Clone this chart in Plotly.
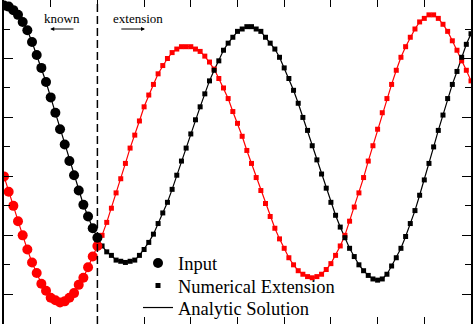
import plotly.graph_objects as go

# sample index (time steps)
t = list(range(101))

# black series
black = [1.45, 1.44, 1.41, 1.37, 1.31, 1.24, 1.14, 1.03, 0.92, 0.80,
         0.67, 0.54, 0.40, 0.27, 0.13, 0.01, -0.12, -0.24, -0.34, -0.44,
         -0.52, -0.59, -0.64, -0.67, -0.71, -0.72, -0.73, -0.72, -0.71, -0.67,
         -0.62, -0.56, -0.49, -0.40, -0.31, -0.22, -0.11, 0.01, 0.13, 0.24,
         0.36, 0.48, 0.59, 0.70, 0.81, 0.90, 0.98, 1.07, 1.13, 1.18,
         1.23, 1.25, 1.27, 1.27, 1.25, 1.23, 1.18, 1.13, 1.08, 1.01,
         0.92, 0.83, 0.73, 0.62, 0.50, 0.39, 0.26, 0.14, 0.02, -0.10,
         -0.22, -0.33, -0.43, -0.52, -0.61, -0.68, -0.75, -0.80, -0.84, -0.87,
         -0.88, -0.87, -0.83, -0.76, -0.69, -0.61, -0.51, -0.40, -0.29, -0.16,
         -0.03, 0.11, 0.25, 0.39, 0.52, 0.66, 0.78, 0.89, 1.01, 1.12,
         1.21]

# red series
red = [0.00, -0.13, -0.25, -0.38, -0.50, -0.62, -0.73, -0.82, -0.91, -0.97,
       -1.03, -1.05, -1.07, -1.06, -1.03, -0.99, -0.92, -0.86, -0.77, -0.68,
       -0.59, -0.50, -0.39, -0.27, -0.14, -0.02, 0.11, 0.24, 0.35, 0.47,
       0.59, 0.69, 0.78, 0.87, 0.94, 1.00, 1.05, 1.08, 1.10, 1.10,
       1.10, 1.08, 1.06, 1.02, 0.97, 0.91, 0.83, 0.75, 0.66, 0.55,
       0.45, 0.34, 0.22, 0.11, -0.01, -0.12, -0.23, -0.34, -0.44, -0.53,
       -0.61, -0.69, -0.75, -0.80, -0.83, -0.85, -0.86, -0.85, -0.83, -0.79,
       -0.74, -0.67, -0.59, -0.50, -0.38, -0.26, -0.14, -0.01, 0.13, 0.26,
       0.40, 0.54, 0.66, 0.78, 0.90, 1.01, 1.10, 1.18, 1.25, 1.31,
       1.34, 1.37, 1.37, 1.34, 1.29, 1.23, 1.15, 1.07, 0.98, 0.90,
       0.81]

known_end = 20  # last input sample (boundary of known region)

legend_names = ["Input", "Numerical Extension", "Analytic Solution"]
annot_texts = ["known", "extension"]

SERIF = "Liberation Serif, Times New Roman, serif"

ki = [i for i in t if i <= known_end]
ei = [i for i in t if i > known_end]

fig = go.Figure()

# analytic solution lines
fig.add_trace(go.Scatter(x=t, y=red, mode="lines", line=dict(color="#ff0000", width=1.2),
                         showlegend=False, hoverinfo="skip"))
fig.add_trace(go.Scatter(x=t, y=black, mode="lines", line=dict(color="black", width=1.2),
                         name=legend_names[2], legend="legend3"))

# numerical extension (squares)
fig.add_trace(go.Scatter(x=ei, y=[red[i] for i in ei], mode="markers",
                         marker=dict(symbol="square", size=5, color="#ff0000"),
                         showlegend=False))
fig.add_trace(go.Scatter(x=ei, y=[black[i] for i in ei], mode="markers",
                         marker=dict(symbol="square", size=5, color="black"),
                         name=legend_names[1], legend="legend2"))

# input (circles)
fig.add_trace(go.Scatter(x=ki, y=[red[i] for i in ki], mode="markers",
                         marker=dict(symbol="circle", size=10, color="#ff0000"),
                         showlegend=False))
fig.add_trace(go.Scatter(x=ki, y=[black[i] for i in ki], mode="markers",
                         marker=dict(symbol="circle", size=10, color="black"),
                         name=legend_names[0], legend="legend"))

# boundary dashed line
fig.add_shape(type="line", x0=known_end, x1=known_end, y0=0, y1=1, xref="x", yref="paper",
              line=dict(color="black", width=1.5, dash="8px,4px"))

# labels and arrows
fig.add_annotation(x=12.5, y=1.34, text=annot_texts[0], showarrow=False,
                   font=dict(family=SERIF, size=13, color="black"))
fig.add_annotation(x=28.7, y=1.34, text=annot_texts[1], showarrow=False,
                   font=dict(family=SERIF, size=13, color="black"))
fig.add_annotation(x=9.9, y=1.25, ax=15.2, ay=1.25, axref="x", ayref="y", text="",
                   showarrow=True, arrowhead=2, arrowsize=0.8, arrowwidth=1, arrowcolor="black")
fig.add_annotation(x=30.2, y=1.25, ax=24.8, ay=1.25, axref="x", ayref="y", text="",
                   showarrow=True, arrowhead=2, arrowsize=0.8, arrowwidth=1, arrowcolor="black")

leg_common = dict(x=(138 - 4) / 467, xanchor="left", yanchor="middle",
                  bgcolor="rgba(0,0,0,0)", font=dict(family=SERIF, size=18.5, color="black"),
                  itemsizing="trace", borderwidth=0)

fig.update_layout(
    width=474, height=327,
    margin=dict(l=4, r=3, t=0, b=0),
    paper_bgcolor="white", plot_bgcolor="white",
    font=dict(family=SERIF, color="black"),
    showlegend=True,
    legend=dict(y=(327 - 266) / 327, **leg_common),
    legend2=dict(y=(327 - 288.5) / 327, **leg_common),
    legend3=dict(y=(327 - 311) / 327, **leg_common),
)
fig.update_xaxes(range=[0, 100], showgrid=False, zeroline=False, showline=False,
                 ticks="inside", ticklen=7, tickwidth=1, tickcolor="black",
                 dtick=10, tick0=0, mirror="ticks", showticklabels=False)
fig.update_yaxes(range=[-1.252, 1.496], showgrid=False, zeroline=False, showline=True,
                 linecolor="black", linewidth=1.5,
                 ticks="inside", ticklen=9, tickwidth=1, tickcolor="black",
                 dtick=0.5, tick0=0, mirror="ticks", showticklabels=False,
                 minor=dict(ticks="inside", ticklen=6, tickcolor="black", dtick=0.25, tick0=0))

fig.write_html("out.html")
